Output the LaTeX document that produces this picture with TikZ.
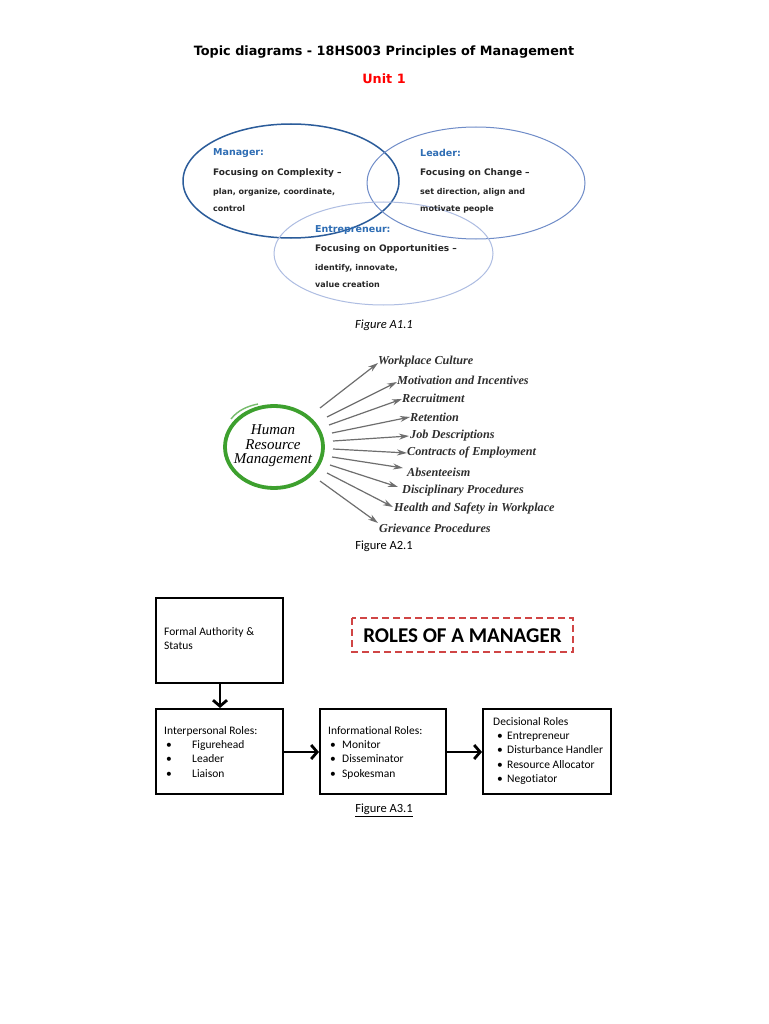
\documentclass[tikz,border=0pt]{standalone}
\usepackage{fontspec}
\setmainfont{Liberation Serif}
\newfontfamily\dvfont{DejaVu Sans}
\newfontfamily\calfont[Ligatures=NoCommon]{Carlito}
\usetikzlibrary{arrows.meta}
\definecolor{mgrblue}{HTML}{2B5C9A}
\definecolor{ldrblue}{HTML}{6F8CC8}
\definecolor{entblue}{HTML}{AEBDE2}
\definecolor{lblblue}{HTML}{2E6DB4}
\definecolor{hrmgreen}{HTML}{3DA02E}
\definecolor{arrgray}{HTML}{6E6E6E}
\definecolor{lblgray}{HTML}{2E2E2E}
\definecolor{dashred}{HTML}{D04545}
\tikzset{
  vhead/.style={font=\dvfont\bfseries\fontsize{9.5}{11}\selectfont, text=lblblue, anchor=west, inner sep=0},
  vmain/.style={font=\dvfont\bfseries\fontsize{9}{11}\selectfont, text=black!85, anchor=west, inner sep=0},
  vsub/.style={font=\dvfont\bfseries\fontsize{8}{10}\selectfont, text=black!85, anchor=west, inner sep=0},
  hlabel/.style={font=\bfseries\itshape\fontsize{12.2}{14}\selectfont, text=lblgray, anchor=west, inner sep=1pt},
  harrow/.style={draw=arrgray, line width=1.2pt, -{Stealth[length=10pt,width=6pt]}},
  rolebox/.style={draw=black, line width=2.2pt, fill=white},
  roletext/.style={font=\calfont\fontsize{11.5}{14.3}\selectfont, align=left, anchor=north west, inner sep=0},
  rolearrow/.style={draw=black, line width=2.8pt, -{Straight Barb[length=6pt,width=14pt]}},
  caption/.style={font=\calfont\fontsize{12.5}{14}\selectfont, inner sep=0}
}
\newcommand{\bitem}[2]{\makebox[#1][l]{\textbullet}#2}
\begin{document}
\begin{tikzpicture}[x=1pt,y=-1pt]
\path[use as bounding box, fill=white] (0,0) rectangle (768,1024);

% Title
\node[font=\dvfont\bfseries\fontsize{12.8}{14}\selectfont] (title) at (384,52) {Topic diagrams - 18HS003 Principles of Management};
\node[font=\dvfont\bfseries\fontsize{12.8}{14}\selectfont, text=red] (unit) at (384,79) {Unit 1};

% Figure A1.1 Venn
\draw[mgrblue, line width=1.5pt] (291,181) ellipse [x radius=108pt, y radius=57pt];
\draw[ldrblue, line width=1pt] (476,183) ellipse [x radius=109pt, y radius=56pt];
\draw[entblue, line width=1pt] (383.5,253.5) ellipse [x radius=109.5pt, y radius=51.5pt];

\node[vhead] (mgrh) at (213,153) {Manager:};
\node[vmain] (mgr1) at (213,173) {Focusing on Complexity –};
\node[vsub] (mgr2) at (213,192) {plan, organize, coordinate,};
\node[vsub] (mgr3) at (213,209) {control};

\node[vhead] (ldrh) at (420,153) {Leader:};
\node[vmain] (ldr1) at (420,173) {Focusing on Change –};
\node[vsub] (ldr2) at (420,192) {set direction, align and};
\node[vsub] (ldr3) at (420,209) {motivate people};

\node[vhead] (enth) at (315,230) {Entrepreneur:};
\node[vmain] (ent1) at (315,249) {Focusing on Opportunities –};
\node[vsub] (ent2) at (315,268) {identify, innovate,};
\node[vsub] (ent3) at (315,285) {value creation};

\node[caption, font=\calfont\itshape\fontsize{12.5}{14}\selectfont] (capA1) at (384,325) {Figure A1.1};

% Figure A2.1 HRM
\draw[hrmgreen, line width=3.8pt] (274,447) ellipse [x radius=49pt, y radius=41pt];
\draw[hrmgreen!70, line width=1.4pt] (231,419) .. controls (238,410) and (248,406) .. (258,404);
\node[font=\itshape\fontsize{15}{14.5}\selectfont, align=center, inner sep=0] (hrm) at (273,446) {Human\\Resource\\Management};

\node[hlabel] (l1) at (377,362) {Workplace Culture};
\node[hlabel] (l2) at (396,380) {Motivation and Incentives};
\node[hlabel] (l3) at (401,398) {Recruitment};
\node[hlabel] (l4) at (409,417) {Retention};
\node[hlabel] (l5) at (409,436) {Job Descriptions};
\node[hlabel] (l6) at (406,453) {Contracts of Employment};
\node[hlabel] (l7) at (406,472) {Absenteeism};
\node[hlabel] (l8) at (401,491) {Disciplinary Procedures};
\node[hlabel] (l9) at (393,509) {Health and Safety in Workplace};
\node[hlabel] (l10) at (378,528) {Grievance Procedures};

\coordinate (s1) at (320,408);
\coordinate (s2) at (327,417);
\coordinate (s3) at (329,425);
\coordinate (s4) at (332,433);
\coordinate (s5) at (333,441);
\coordinate (s6) at (333,449);
\coordinate (s7) at (332,457);
\coordinate (s8) at (330,465);
\coordinate (s9) at (327,473);
\coordinate (s10) at (320,481);
\coordinate (e1) at (378,363);
\coordinate (e2) at (397,382);
\coordinate (e3) at (402,399);
\coordinate (e4) at (410,417);
\coordinate (e5) at (409,436);
\coordinate (e6) at (407,453);
\coordinate (e7) at (403,468);
\coordinate (e8) at (398,487);
\coordinate (e9) at (393,507);
\coordinate (e10) at (378,523);
\foreach \i in {1,...,10} { \draw[harrow] (s\i) -- (e\i); }

\node[caption] (capA2) at (384,546) {Figure A2.1};

% Figure A3.1 Roles
\draw[rolebox] (156,598) rectangle (283,683);
\node[roletext] (fa) at (164,627) {Formal Authority \&\\Status};
\coordinate (fabot) at (220,683);
\coordinate (iptop) at (220,708);

\draw[rolebox] (156,709) rectangle (283,794);
\node[roletext] (ip) at (164,726) {Interpersonal Roles:\\
  \hspace*{2pt}\bitem{26pt}{Figurehead}\\
  \hspace*{2pt}\bitem{26pt}{Leader}\\
  \hspace*{2pt}\bitem{26pt}{Liaison}};

\draw[rolebox] (320,709) rectangle (446,794);
\node[roletext] (inf) at (328,726) {Informational Roles:\\
  \hspace*{2pt}\bitem{12pt}{Monitor}\\
  \hspace*{2pt}\bitem{12pt}{Disseminator}\\
  \hspace*{2pt}\bitem{12pt}{Spokesman}};

\draw[rolebox] (483,709) rectangle (611,794);
\node[roletext] (dec) at (493,717) {Decisional Roles\\
  \hspace*{4pt}\bitem{10pt}{Entrepreneur}\\
  \hspace*{4pt}\bitem{10pt}{Disturbance Handler}\\
  \hspace*{4pt}\bitem{10pt}{Resource Allocator}\\
  \hspace*{4pt}\bitem{10pt}{Negotiator}};

\coordinate (ipr) at (283,752);
\coordinate (infl) at (319,752);
\coordinate (infr) at (446,752);
\coordinate (decl) at (482,752);
\draw[rolearrow] (fabot) -- (iptop);
\draw[rolearrow] (ipr) -- (infl);
\draw[rolearrow] (infr) -- (decl);

\draw[dashred, line width=1.6pt, dash pattern=on 7pt off 4pt] (352,618) rectangle (573,652);
\node[font=\calfont\bfseries\fontsize{21}{23}\selectfont, inner sep=0] (roles) at (462.5,635.5) {ROLES OF A MANAGER};

\node[caption] (capA3) at (384,810) {\underline{Figure A3.1}};
\end{tikzpicture}
\end{document}
